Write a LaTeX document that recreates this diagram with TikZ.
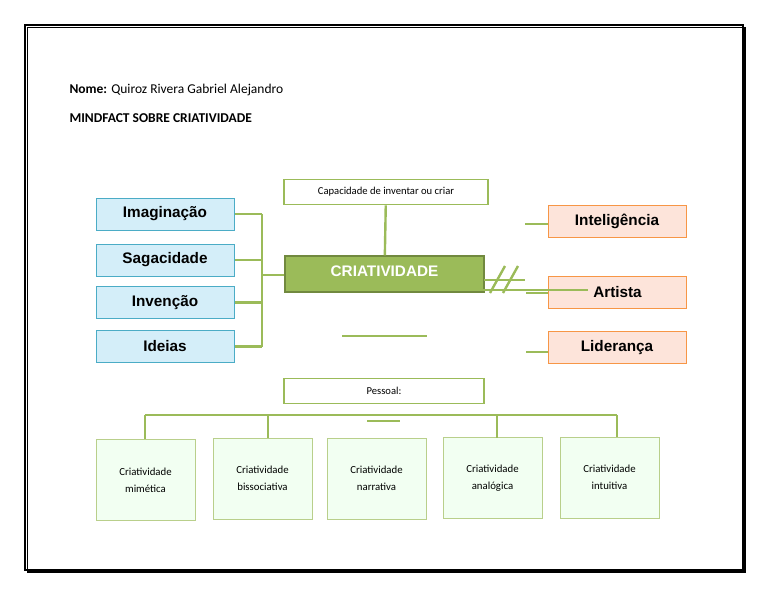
\documentclass[tikz,border=0pt]{standalone}
\usepackage{fontspec}
\setmainfont{Carlito}
\newfontfamily\arialf{Liberation Sans}
\begin{document}
\begin{tikzpicture}[x=1pt,y=-1pt]
\definecolor{mgreen}{HTML}{9BBB59}
\definecolor{dgreen}{HTML}{71893F}
\definecolor{mblue}{HTML}{4BACC6}
\definecolor{lblue}{HTML}{D4EEF9}
\definecolor{morange}{HTML}{F79646}
\definecolor{lorange}{HTML}{FDE4DA}
\tikzstyle{bluebox}=[draw=mblue,fill=lblue,line width=1pt,minimum width=138pt,minimum height=32pt,font=\arialf\bfseries\fontsize{15.3}{17}\selectfont,inner sep=0pt]
\tikzstyle{orbox}=[draw=morange,fill=lorange,line width=1pt,minimum width=138pt,minimum height=32pt,font=\arialf\bfseries\fontsize{15.3}{17}\selectfont,inner sep=0pt]
\tikzstyle{wbox}=[draw=mgreen,fill=white,line width=1.8pt,minimum width=204pt,minimum height=25pt,font=\fontsize{10.6}{12}\selectfont,inner sep=0pt]
\tikzstyle{lbox}=[draw=mgreen!70,fill=green!5,line width=1pt,minimum width=99pt,minimum height=81pt,align=center,font=\fontsize{10.8}{17}\selectfont,inner sep=0pt]
\tikzstyle{link}=[draw=mgreen,line width=2.4pt]
\useasboundingbox (0,0) rectangle (768,595);
% frame
\draw[line width=1.5pt] (25,25) rectangle (743,570);
\draw[line width=1.5pt] (27.5,27.5) rectangle (745,572);
\node[anchor=west,font=\fontsize{13.5}{15}\selectfont] (nome) at (66,90) {\textbf{Nome:} Quiroz Rivera Gabriel Alejandro};
\node[anchor=west,font=\bfseries\fontsize{13.5}{15}\selectfont] (tit) at (66,118) {MINDFACT SOBRE CRIATIVIDADE};
% centre
\node[draw=dgreen,fill=mgreen,line width=1.2pt,minimum width=199pt,minimum height=36pt,text=white,font=\arialf\bfseries\fontsize{15.3}{17}\selectfont] (c) at (384.5,274) {\raisebox{5pt}{CRIATIVIDADE}};
\node[wbox] (cap) at (386,192) {Capacidade de inventar ou criar};
\draw[link] (cap) -- (c);
% left
\node[bluebox] (ima) at (165,214) {Imaginação};
\node[bluebox] (sag) at (165,260) {Sagacidade};
\node[bluebox] (inv) at (165,302.5) {Invenção};
\node[bluebox] (ide) at (165,346.5) {Ideias};
\coordinate (br) at (262,275);
\foreach \n in {ima,sag,inv,ide}
  \draw[link] (\n.east) -- (br |- \n.east);
\draw[link] (br |- ima.east) -- (br |- ide.east);
\draw[link] (br) -- (br -| c.west);
% right
\node[orbox] (int) at (617,221) {Inteligência};
\node[orbox] (art) at (617.5,292) {\raisebox{-1pt}{Artista}};
\node[orbox] (lid) at (617,347.5) {Liderança};
\coordinate (p1) at (525,224);
\coordinate (p2) at (526,293);
\coordinate (p3) at (526,352);
\draw[link] (p1) -- (p1 -| int.west);
\draw[link] (p2) -- (p2 -| art.west);
\draw[link] (p3) -- (p3 -| lid.west);
\coordinate (a1) at (484,280);
\coordinate (a2) at (525,280);
\coordinate (a3) at (460,290);
\coordinate (a4) at (588,290);
\draw[link] (a1) -- (a2);
\draw[link] (a3) -- (a4);
\draw[link] (490,293) -- (505,266);
\draw[link] (503,293) -- (518,266);
\coordinate (m1) at (342,336);
\coordinate (m2) at (427,336);
\draw[link] (m1) -- (m2);
% bottom
\node[wbox,minimum width=200pt] (pes) at (384,391) {Pessoal:};
\coordinate (n1) at (367,421);
\coordinate (n2) at (400,421);
\draw[link] (n1) -- (n2);
\node[lbox] (b1) at (145.5,480) {Criatividade\\mimética};
\node[lbox] (b2) at (262.5,478.5) {Criatividade\\bissociativa};
\node[lbox] (b3) at (376.5,478.5) {Criatividade\\narrativa};
\node[lbox] (b4) at (492.5,478) {Criatividade\\analógica};
\node[lbox] (b5) at (609.5,477.5) {Criatividade\\intuitiva};
\coordinate (h1) at (145,415);
\coordinate (h2) at (617,415);
\draw[link] (h1) -- (h2);
\draw[link] (h1) -- (h1 |- b1.north);
\draw[link] (268,415) -- (268,438);
\draw[link] (497,415) -- (497,438);
\draw[link] (h2) -- (h2 |- b5.north);
\end{tikzpicture}
\end{document}
